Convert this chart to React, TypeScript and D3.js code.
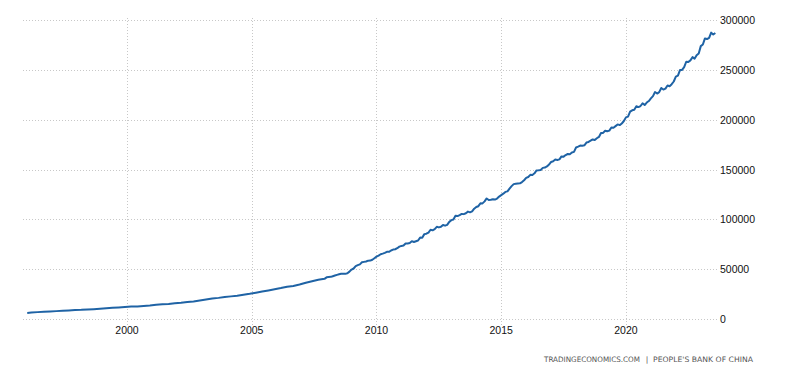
import React from "react";
import * as d3 from "d3";

// Quarterly readings 1996-2007, monthly readings 2008-2023 (billion CNY)
const dates: string[] = [
  "1996-01","1996-03","1996-06","1996-09","1996-12",
  "1997-03","1997-06","1997-09","1997-12",
  "1998-03","1998-06","1998-09","1998-12",
  "1999-03","1999-06","1999-09","1999-12",
  "2000-03","2000-06","2000-09","2000-12",
  "2001-03","2001-06","2001-09","2001-12",
  "2002-03","2002-06","2002-09","2002-12",
  "2003-03","2003-06","2003-09","2003-12",
  "2004-03","2004-06","2004-09","2004-12",
  "2005-03","2005-06","2005-09","2005-12",
  "2006-03","2006-06","2006-09","2006-12",
  "2007-03","2007-06","2007-09","2007-12",
  "2008-01","2008-02","2008-03","2008-04","2008-05","2008-06","2008-07","2008-08","2008-09","2008-10","2008-11","2008-12",
  "2009-01","2009-02","2009-03","2009-04","2009-05","2009-06","2009-07","2009-08","2009-09","2009-10","2009-11","2009-12",
  "2010-01","2010-02","2010-03","2010-04","2010-05","2010-06","2010-07","2010-08","2010-09","2010-10","2010-11","2010-12",
  "2011-01","2011-02","2011-03","2011-04","2011-05","2011-06","2011-07","2011-08","2011-09","2011-10","2011-11","2011-12",
  "2012-01","2012-02","2012-03","2012-04","2012-05","2012-06","2012-07","2012-08","2012-09","2012-10","2012-11","2012-12",
  "2013-01","2013-02","2013-03","2013-04","2013-05","2013-06","2013-07","2013-08","2013-09","2013-10","2013-11","2013-12",
  "2014-01","2014-02","2014-03","2014-04","2014-05","2014-06","2014-07","2014-08","2014-09","2014-10","2014-11","2014-12",
  "2015-01","2015-02","2015-03","2015-04","2015-05","2015-06","2015-07","2015-08","2015-09","2015-10","2015-11","2015-12",
  "2016-01","2016-02","2016-03","2016-04","2016-05","2016-06","2016-07","2016-08","2016-09","2016-10","2016-11","2016-12",
  "2017-01","2017-02","2017-03","2017-04","2017-05","2017-06","2017-07","2017-08","2017-09","2017-10","2017-11","2017-12",
  "2018-01","2018-02","2018-03","2018-04","2018-05","2018-06","2018-07","2018-08","2018-09","2018-10","2018-11","2018-12",
  "2019-01","2019-02","2019-03","2019-04","2019-05","2019-06","2019-07","2019-08","2019-09","2019-10","2019-11","2019-12",
  "2020-01","2020-02","2020-03","2020-04","2020-05","2020-06","2020-07","2020-08","2020-09","2020-10","2020-11","2020-12",
  "2021-01","2021-02","2021-03","2021-04","2021-05","2021-06","2021-07","2021-08","2021-09","2021-10","2021-11","2021-12",
  "2022-01","2022-02","2022-03","2022-04","2022-05","2022-06","2022-07","2022-08","2022-09","2022-10","2022-11","2022-12",
  "2023-01","2023-02","2023-03","2023-04","2023-05","2023-06","2023-07","2023-08",
];

const m2: number[] = [
  6100, 6500, 6900, 7200, 7600,
  7900, 8200, 8600, 9100,
  9200, 9500, 9900, 10400,
  10900, 11200, 11600, 12000,
  12500, 12600, 13000, 13500,
  14200, 14700, 15000, 15800,
  16300, 17000, 17600, 18500,
  19500, 20500, 21200, 22100,
  22700, 23400, 24400, 25300,
  26400, 27600, 28700, 29900,
  31000, 32300, 33100, 34600,
  36400, 37800, 39300, 40300,
  41780, 42150, 42310, 42970, 43630, 44310, 44930, 45320, 45290, 45300, 45860, 47520,
  49610, 50650, 53060, 54070, 54830, 56890, 57300, 57670, 58540, 58610, 59480, 61020,
  62560, 63600, 64990, 65600, 66380, 67390, 67400, 68750, 69640, 69980, 71020, 72580,
  73340, 73730, 75810, 75750, 76340, 78080, 77290, 78070, 78740, 81680, 81600, 85160,
  85560, 86750, 89560, 88960, 90090, 92500, 91920, 92490, 94370, 93640, 94470, 97410,
  99210, 99860, 103610, 103260, 104210, 105450, 105220, 106130, 107740, 107020, 107930, 110650,
  112350, 113180, 116070, 116000, 118000, 120960, 119410, 119720, 120210, 119870, 120860, 122840,
  124270, 125740, 127530, 128080, 130850, 133340, 135320, 135700, 135980, 136100, 137400, 139230,
  141630, 142460, 144620, 144520, 146170, 149050, 149160, 149490, 151640, 151950, 153040, 155010,
  157590, 158290, 159960, 159620, 160140, 163130, 162900, 164520, 165570, 165340, 167000, 167680,
  172080, 172910, 173990, 173770, 174310, 177020, 177620, 178870, 180170, 179560, 181320, 182670,
  186590, 186740, 188940, 188400, 189020, 192140, 191940, 193550, 195230, 194560, 196140, 198650,
  202300, 203100, 208100, 209400, 210000, 213500, 212600, 213700, 216400, 214700, 217200, 218700,
  221300, 223600, 227700, 226200, 227600, 231800, 230200, 231200, 234300, 233600, 235600, 238300,
  243100, 244100, 249800, 249900, 252700, 258100, 257800, 259500, 262700, 261200, 264700, 266400,
  273800, 275400, 281500, 280900, 282100, 287300, 285400, 286900,
];

const xTicks: number[] = [2000, 2005, 2010, 2015, 2020];
const yTicks: number[] = [0, 50000, 100000, 150000, 200000, 250000, 300000];
const sourceLeft = "TRADINGECONOMICS.COM";
const sourceRight = "PEOPLE'S BANK OF CHINA";

const W = 800;
const H = 376;

export default function App() {
  const toYear = (s: string) => {
    const [y, m] = s.split("-").map(Number);
    return y + (m - 1) / 12;
  };
  const data = dates.map((d, i) => ({ t: toYear(d), v: m2[i] }));

  const x = d3.scaleLinear().domain([1995.83, 2023.65]).range([23, 717]);
  const y = d3.scaleLinear().domain([0, 300000]).range([319, 20]);

  const line = d3
    .line<{ t: number; v: number }>()
    .x((d) => x(d.t))
    .y((d) => y(d.v))
    .curve(d3.curveLinear);

  const font = "'Liberation Sans', Arial, sans-serif";
  const footFont = "'DejaVu Sans', Verdana, sans-serif";

  return (
    <svg
      width={W}
      height={H}
      style={{ position: "absolute", left: 0, top: 0, background: "#fff" }}
    >
      {yTicks.map((t) => (
        <line
          key={"gy" + t}
          x1={23}
          x2={717}
          y1={Math.round(y(t)) + 0.5}
          y2={Math.round(y(t)) + 0.5}
          stroke="#c8c8c8"
          strokeWidth={1}
          strokeDasharray="1,2"
        />
      ))}
      {xTicks.map((t) => (
        <line
          key={"gx" + t}
          x1={Math.round(x(t)) + 0.5}
          x2={Math.round(x(t)) + 0.5}
          y1={18}
          y2={326}
          stroke="#c8c8c8"
          strokeWidth={1}
          strokeDasharray="1,2"
        />
      ))}
      <path
        d={line(data) || ""}
        fill="none"
        stroke="#1f63a5"
        strokeWidth={2}
        strokeLinejoin="round"
      />
      {yTicks.map((t) => (
        <text
          key={"ly" + t}
          x={720}
          y={y(t) + 4}
          fontFamily={font}
          fontSize={10.5}
          fill="#111"
        >
          {t}
        </text>
      ))}
      {xTicks.map((t) => (
        <text
          key={"lx" + t}
          x={x(t)}
          y={334}
          textAnchor="middle"
          fontFamily={font}
          fontSize={10.5}
          fill="#111"
        >
          {t}
        </text>
      ))}
      <g fontFamily={footFont} fontSize={7.5} fill="#555">
        <text x={544} y={362} textLength={96} lengthAdjust="spacingAndGlyphs">
          {sourceLeft}
        </text>
        <text x={647} y={362} textAnchor="middle">
          |
        </text>
        <text x={653} y={362} textLength={100} lengthAdjust="spacingAndGlyphs">
          {sourceRight}
        </text>
      </g>
    </svg>
  );
}
